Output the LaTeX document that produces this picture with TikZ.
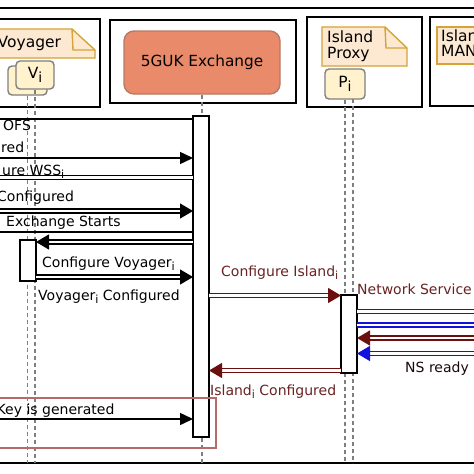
\documentclass[tikz,border=0pt]{standalone}
\usepackage{fontspec}
\usepackage{graphicx}
\setmainfont{DejaVu Sans}
\usetikzlibrary{arrows.meta}
\definecolor{notefill}{HTML}{FDE9D2}
\definecolor{noteline}{HTML}{D4A437}
\definecolor{lifefill}{HTML}{FFF2CC}
\definecolor{lifegray}{HTML}{7F7F7F}
\definecolor{exfill}{HTML}{E98A6B}
\definecolor{exline}{HTML}{B77A66}
\definecolor{maroonline}{HTML}{6B0F0F}
\definecolor{maroontext}{HTML}{6A2222}
\definecolor{nsblue}{HTML}{1212DD}
\definecolor{fragred}{HTML}{B56B6B}
\newcommand{\sbi}{\raisebox{-0.4ex}{\scalebox{0.8}{i}}}
\newcommand{\bsbi}{\raisebox{-0.45ex}{\scalebox{0.9}{i}}}
\tikzset{
  lane/.style={draw=black, line width=1.7pt, fill=white, inner sep=0pt, outer sep=0pt},
  notebody/.style={draw=noteline, line width=1.4pt, fill=notefill},
  notetxt/.style={inner sep=0pt, font=\fontsize{15.5}{17}\selectfont, align=left},
  lifebox/.style={draw=lifegray, line width=1.4pt, fill=lifefill, rounded corners=4pt, inner sep=0pt, font=\fontsize{15.5}{17}\selectfont},
  life/.style={draw=lifegray, line width=1.5pt, dash pattern=on 4pt off 3pt},
  actbar/.style={draw=black, line width=1.6pt, fill=white, inner sep=0pt, outer sep=0pt},
  msgtxt/.style={inner sep=0pt, font=\fontsize{14}{16}\selectfont, text=black},
  rtxt/.style={msgtxt, text=maroontext},
  nstxt/.style={msgtxt, text=black!75!maroontext},
  msg/.style={draw=black, line width=1.5pt, -{Triangle[length=13pt,width=12pt]}},
  plain/.style={draw=black, line width=1.5pt},
  dmsg/.style={draw=black, line width=1.3pt, double=white, double distance=2.6pt, -{Triangle[length=13pt,width=15pt]}},
  dplain/.style={draw=black, line width=1.3pt, double=white, double distance=2.6pt},
  rmsg/.style={dmsg, draw=maroonline},
  rplain/.style={dplain, draw=maroonline},
  bmsg/.style={dmsg, draw=nsblue},
  bplain/.style={dplain, draw=nsblue},
}
\begin{document}
\begin{tikzpicture}[x=1pt, y=-1pt]
\useasboundingbox (0,0) rectangle (474,474);
\clip (0,0) rectangle (474,474);
\fill[white] (0,0) rectangle (474,474);
% outer frame
\draw[line width=2pt] (-5,8) rectangle (479,463);
% lane boxes
\node[lane, anchor=north west, minimum width=105pt, minimum height=88pt] (vlane) at (-5,19) {};
\node[lane, anchor=north west, minimum width=186pt, minimum height=83pt] (xlane) at (110,20) {};
\node[lane, anchor=north west, minimum width=115pt, minimum height=90pt] (plane) at (307,17) {};
\node[lane, anchor=north west, minimum width=60pt, minimum height=89pt] (mlane) at (430,17) {};
% notes
\draw[notebody] (-5,29) -- (72,29) -- (95,50) -- (95,58) -- (-5,58) -- cycle;
\draw[draw=noteline, line width=1.4pt] (72,29) -- (73,50) -- (95,50);
\node[notetxt, anchor=base west] (vnote) at (-2.5,47) {Voyager};
\draw[notebody] (322,27) -- (385,27) -- (407,48) -- (407,66) -- (322,66) -- cycle;
\draw[draw=noteline, line width=1.4pt] (385,27) -- (386,48) -- (407,48);
\node[notetxt, anchor=north west] (pnote) at (327,31) {Island\\[-1pt]Proxy};
\draw[notebody] (437,27) rectangle (490,64);
\node[notetxt, anchor=north west] (mnote) at (441,30) {Island\\[-2pt]MAN};
% participant boxes
\node[lifebox, minimum width=39pt, minimum height=29pt] (vback) at (27.5,80.5) {};
\node[lifebox, minimum width=38pt, minimum height=28pt] (vfront) at (35,75) {V\bsbi};
\node[draw=exline, line width=1.4pt, fill=exfill, rounded corners=10pt, minimum width=156pt, minimum height=63pt, inner sep=0pt, font=\fontsize{15.3}{17}\selectfont] (ex) at (202,62.5) {5GUK Exchange};
\node[lifebox, minimum width=40pt, minimum height=30pt] (pi) at (345,84) {P\bsbi};
% lifelines
\coordinate (bot) at (0,463);
\draw[life] (vback.south) -- (vback.south |- bot);
\draw[life] (vfront.south) -- (vfront.south |- bot);
\draw[life] (ex.south) -- (ex.south |- bot);
\draw[life] (pi.south) -- (pi.south |- bot);
\coordinate (pi2) at (353,99);
\draw[life] (pi2) -- (pi2 |- bot);
% activation bars
\node[actbar, anchor=north west, minimum width=16pt, minimum height=321pt] (exbar) at (193,116) {};
\node[actbar, anchor=north west, minimum width=16pt, minimum height=41pt] (vbar) at (20,240) {};
\node[actbar, anchor=north west, minimum width=16pt, minimum height=78pt] (pbar) at (341,295) {};
% left messages
\coordinate (L1) at (-5,119);
\coordinate (L2) at (-5,158);
\coordinate (L3) at (-5,177.5);
\coordinate (L4) at (-5,211);
\coordinate (L5) at (-5,232);
\coordinate (L6) at (0,242);
\coordinate (L7) at (0,277);
\coordinate (L8) at (-5,419);
\draw[plain] (L1) -- (L1 -| exbar.west);
\draw[msg] (L2) -- (L2 -| exbar.west);
\draw[dplain] (L3) -- (L3 -| exbar.west);
\draw[dmsg] (L4) -- (L4 -| exbar.west);
\draw[plain] (L5) -- (L5 -| exbar.west);
\draw[dmsg] (L6 -| exbar.west) -- (L6 -| vbar.east);
\draw[dmsg] (L7 -| vbar.east) -- (L7 -| exbar.west);
\draw[msg] (L8) -- (L8 -| exbar.west);
% right messages
\coordinate (R1) at (0,295.5);
\coordinate (R2) at (479,311.5);
\coordinate (R3) at (479,325);
\coordinate (R4) at (479,338);
\coordinate (R5) at (479,353.5);
\coordinate (R6) at (0,370.5);
\draw[rmsg] (R1 -| exbar.east) -- (R1 -| pbar.west);
\draw[rplain] (R2) -- (R2 -| pbar.east);
\draw[bplain] (R3) -- (R3 -| pbar.east);
\draw[rmsg] (R4) -- (R4 -| pbar.east);
\draw[bmsg] (R5) -- (R5 -| pbar.east);
\draw[rmsg] (R6 -| pbar.west) -- (R6 -| exbar.east);
% fragment
\draw[draw=fragred, line width=1.4pt] (-5,398) rectangle (216,448);
% labels
\node[msgtxt, anchor=base west] (t1) at (3,130) {OFS};
\node[msgtxt, anchor=base west] (t2) at (1,152) {red};
\node[msgtxt, anchor=base west] (t3) at (2,175) {ure WSS\sbi};
\node[msgtxt, anchor=base west] (t4) at (-3,201) {Configured};
\node[msgtxt, anchor=base west] (t5) at (6,226.5) {Exchange Starts};
\node[msgtxt, anchor=base west] (t6) at (42,267.5) {Configure Voyager\sbi};
\node[msgtxt, anchor=base west] (t7) at (38,300) {Voyager\sbi{} Configured};
\node[rtxt, anchor=base west] (t8) at (221,276) {Configure Island\sbi};
\node[rtxt, anchor=base west] (t9) at (357,294) {Network Service};
\node[nstxt, anchor=base west] (t10) at (405,372) {NS ready};
\node[rtxt, anchor=base west] (t11) at (210,395) {Island\sbi{} Configured};
\node[msgtxt, anchor=base west] (t12) at (-3.5,414) {Key is generated};
\end{tikzpicture}
\end{document}
